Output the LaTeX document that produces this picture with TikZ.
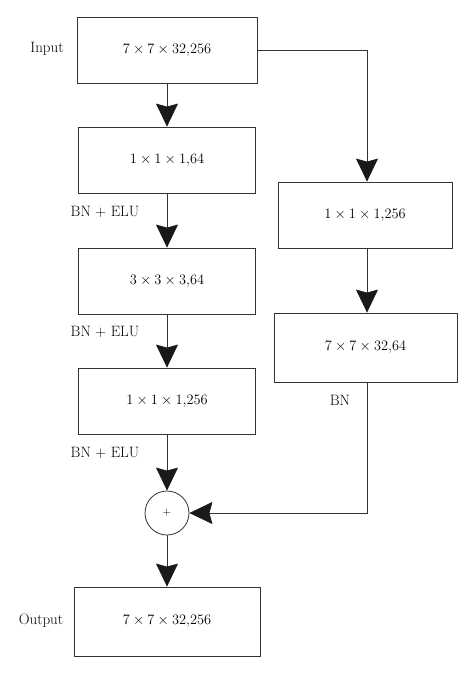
\documentclass[tikz,border=0pt]{standalone}
\usetikzlibrary{arrows.meta}
\begin{document}
\begin{tikzpicture}[x=1pt,y=-1pt,
  box/.style={draw=black!80, line width=0.8pt, minimum width=#1, inner sep=0pt, font=\fontsize{15}{18}\selectfont},
  lbl/.style={font=\fontsize{15}{18}\selectfont, inner sep=0pt},
  conn/.style={draw=black!80, line width=0.8pt},
  arr/.style={conn, -{Stealth[length=23pt, width=22pt, inset=3pt, black!90]}}]
\useasboundingbox (0,0) rectangle (474,673);
% left column
\node[box=180pt, minimum height=66pt] (in) at (167,50) {$7\times7\times32{,}256$};
\node[box=177pt, minimum height=66pt] (b1) at (167,160) {$1\times1\times1{,}64$};
\node[box=177pt, minimum height=66pt] (b2) at (167,281) {$3\times3\times3{,}64$};
\node[box=177pt, minimum height=66pt] (b3) at (167,401) {$1\times1\times1{,}256$};
\node[draw=black!80, line width=0.8pt, circle, minimum size=44pt, inner sep=0pt, font=\fontsize{11}{12}\selectfont] (add) at (167,513) {$+$};
\node[box=186pt, minimum height=69pt] (out) at (167,621.5) {$7\times7\times32{,}256$};
% right column
\node[box=174pt, minimum height=66pt] (r1) at (365,215) {$1\times1\times1{,}256$};
\node[box=183pt, minimum height=69pt] (r2) at (365.5,347.5) {$7\times7\times32{,}64$};
% labels
\node[lbl] (lin) at (47,49) {Input};
\node[lbl] (lout) at (41,621) {Output};
\node[lbl] (e1) at (105,212) {BN + ELU};
\node[lbl] (e2) at (105,332) {BN + ELU};
\node[lbl] (e3) at (105,453) {BN + ELU};
\node[lbl] (bn) at (340,400) {BN};
% connectors
\coordinate (c1) at (367,50);
\coordinate (c2) at (367,513);
\draw[arr] (in.south) -- (b1.north);
\draw[arr] (b1.south) -- (b2.north);
\draw[arr] (b2.south) -- (b3.north);
\draw[arr] (b3.south) -- (add.north);
\draw[arr] (add.south) -- (out.north);
\draw[arr] (in.east) -- (c1) -- (r1.north -| c1);
\draw[arr] (r1.south -| c1) -- (r2.north -| c1);
\draw[arr] (r2.south -| c1) -- (c2) -- (add.east);
\end{tikzpicture}
\end{document}
